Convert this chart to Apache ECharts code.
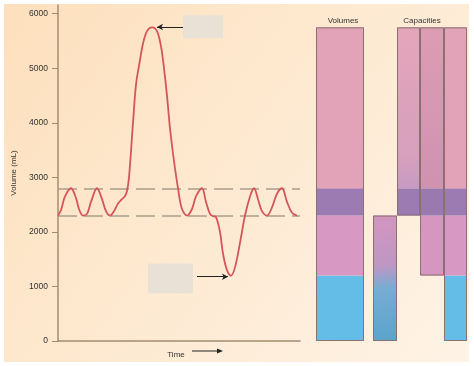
<!DOCTYPE html>
<html>
<head>
<meta charset="utf-8">
<script src="https://cdn.jsdelivr.net/npm/echarts@6/dist/echarts.min.js"></script>
<style>html,body{margin:0;padding:0;background:#fff}#c{width:474px;height:366px}</style>
</head>
<body>
<div id="c"></div>
<script>
// ---- data ----
const timePoints = [0,3,7,13,18,21,25,29,33,39,44,48,52,56,60,64,67,69,71,75,78,81.5,85,89,94,99,103,106,109,112,116,120,124,129,134,138,144,148,152,155,158,162,165,169,173,177,182,187,192,196,200,204,209,214,219,224,229,234,239];
const volumePoints = [2300,2400,2650,2800,2620,2420,2300,2330,2550,2800,2600,2380,2300,2380,2520,2600,2660,2750,3000,4000,4700,5100,5450,5680,5750,5680,5400,5000,4500,3900,3300,2800,2420,2300,2420,2650,2800,2550,2330,2290,2270,2000,1600,1300,1200,1350,1800,2300,2650,2800,2600,2380,2300,2450,2700,2800,2550,2350,2300];
const yTicks = [0,1000,2000,3000,4000,5000,6000];
const tidalLevels = [2800, 2300];
// lung volumes (mL)
const RV = 1200, ERV = 1100, TV = 500, IRV = 2950;
const columnTitles = ['Volumes', 'Capacities'];
const volumesStack = [RV, ERV, TV, IRV];
const frcStack = [ERV + RV];
const icBase = ERV + RV, icStack = [TV, IRV];
const vcBase = RV, vcStack = [ERV, TV, IRV];
const tlcStack = [RV, ERV, TV, IRV];

// ---- styles ----
const C = {
  irv: '#e2a3b8', tv: '#9c7bb2', erv: '#d798c3', rv: '#63bde7'
};
const grad = (stops, x2 = 0) => ({type: 'linear', x: 0, y: 0, x2: x2, y2: 1,
  colorStops: stops.map(s => ({offset: s[0], color: s[1]}))});

const chart = echarts.init(document.getElementById('c'));
const font = 'Liberation Sans, Arial, sans-serif';
const YMAX = 6160;

const colLayout = [
  {left: 316, width: 48},
  {left: 373, width: 24},
  {left: 397, width: 23},
  {left: 420, width: 24},
  {left: 444, width: 23}
];

const grids = [{left: 58, width: 242, top: 5, bottom: 25}].concat(
  colLayout.map(c => ({left: c.left, width: c.width, top: 5, bottom: 25})));

const xAxes = [{
  type: 'value', min: 0, max: 242, gridIndex: 0,
  axisLine: {lineStyle: {color: '#a48c70', width: 1.5}},
  axisTick: {show: false}, axisLabel: {show: false}, splitLine: {show: false},
  name: 'Time', nameLocation: 'middle', nameGap: 10,
  nameTextStyle: {fontSize: 8, color: '#333', fontFamily: font, padding: [0, 6, 0, 0]}
}].concat(colLayout.map((c, i) => ({type: 'category', gridIndex: i + 1, data: ['x'], show: false})));

const yAxes = [{
  type: 'value', min: 0, max: YMAX, gridIndex: 0,
  axisLine: {show: true, lineStyle: {color: '#a48c70', width: 1.5}},
  axisTick: {show: true, length: 6, customValues: yTicks, lineStyle: {color: '#a48c70', width: 1}},
  axisLabel: {customValues: yTicks, formatter: v => String(v), fontSize: 8.5, color: '#333', fontFamily: font, margin: 10},
  splitLine: {show: false},
  name: 'Volume (mL)', nameLocation: 'middle', nameGap: 40, nameRotate: 90,
  nameTextStyle: {fontSize: 8, color: '#333', fontFamily: font}
}].concat(colLayout.map((c, i) => ({type: 'value', gridIndex: i + 1, min: 0, max: YMAX, show: false})));

const clear = 'rgba(0,0,0,0)';
function column(idx, base, segs, colors) {
  const out = [];
  const common = {type: 'bar', xAxisIndex: idx, yAxisIndex: idx, barWidth: '100%', barGap: '-100%', silent: true};
  const st = 's' + idx, fs = 'f' + idx;
  if (base > 0) out.push(Object.assign({}, common, {stack: st, data: [base], itemStyle: {color: clear}}));
  segs.forEach((v, i) => out.push(Object.assign({}, common, {stack: st, data: [v], itemStyle: {color: colors[i]}})));
  const total = segs.reduce((a, b) => a + b, 0);
  if (base > 0) out.push(Object.assign({}, common, {stack: fs, data: [base], itemStyle: {color: clear}}));
  out.push(Object.assign({}, common, {stack: fs, data: [total], z: 3,
    itemStyle: {color: clear, borderColor: '#8a7070', borderWidth: 1}}));
  return out;
}

const series = [
  {
    type: 'line', xAxisIndex: 0, yAxisIndex: 0, smooth: 0.35, symbol: 'none',
    data: timePoints.map((t, i) => [t, volumePoints[i]]),
    lineStyle: {color: '#d4565b', width: 1.8}, z: 5,
    markLine: {
      silent: true, symbol: 'none', label: {show: false},
      lineStyle: {color: '#a99d8c', width: 1.6, type: [19, 7]},
      data: tidalLevels.map(v => ({yAxis: v}))
    },
    markArea: {
      silent: true, itemStyle: {color: '#e9e0d6'},
      data: [
        [{coord: [125, 5971]}, {coord: [165, 5549]}],
        [{coord: [90, 1423]}, {coord: [135, 874]}]
      ]
    }
  },
  {
    type: 'line', xAxisIndex: 0, yAxisIndex: 0, data: [], symbol: 'none',
    markLine: {
      silent: true, symbol: ['none', 'arrow'], symbolSize: [5, 6], label: {show: false},
      lineStyle: {color: '#222', width: 1, type: 'solid'},
      data: [
        [{coord: [125, 5756]}, {coord: [99, 5756]}],
        [{coord: [139, 1178]}, {coord: [170, 1178]}]
      ]
    }
  }
].concat(
  column(1, 0, volumesStack, [C.rv, C.erv, C.tv, C.irv]),
  column(2, 0, frcStack, [grad([[0, '#d296c0'], [0.4, '#bf96c3'], [0.58, '#78acd3'], [1, '#5aa4cb']], 0.25)]),
  column(3, icBase, icStack, [C.tv, grad([[0, '#e4a5ba'], [0.8, '#d7a0bd'], [1, '#c79ac2']])]),
  column(4, vcBase, vcStack, ['#d596c0', '#9a79af', grad([[0, '#dc9db3'], [1, '#cf92b0']])]),
  column(5, 0, tlcStack, [C.rv, C.erv, C.tv, C.irv])
);

chart.setOption({
  animation: false,
  backgroundColor: '#ffffff',
  textStyle: {fontFamily: font},
  grid: grids,
  xAxis: xAxes,
  yAxis: yAxes,
  title: [
    {text: columnTitles[0], left: 338, top: 12, textAlign: 'center', textStyle: {fontSize: 8, fontWeight: 'normal', color: '#333', fontFamily: font}},
    {text: columnTitles[1], left: 417, top: 12, textAlign: 'center', textStyle: {fontSize: 8, fontWeight: 'normal', color: '#333', fontFamily: font}}
  ],
  graphic: [
    {type: 'rect', z: -10, silent: true, shape: {x: 4, y: 4, width: 465, height: 358},
      style: {fill: grad([[0, '#fde0bd'], [1, '#fef3e6']], 1)}},
    {type: 'line', silent: true, shape: {x1: 192, y1: 351, x2: 219, y2: 351}, style: {stroke: '#222', lineWidth: 1}},
    {type: 'polygon', silent: true, shape: {points: [[217, 348.5], [223, 351], [217, 353.5]]}, style: {fill: '#222'}}
  ],
  series: series
});
</script>
</body>
</html>
